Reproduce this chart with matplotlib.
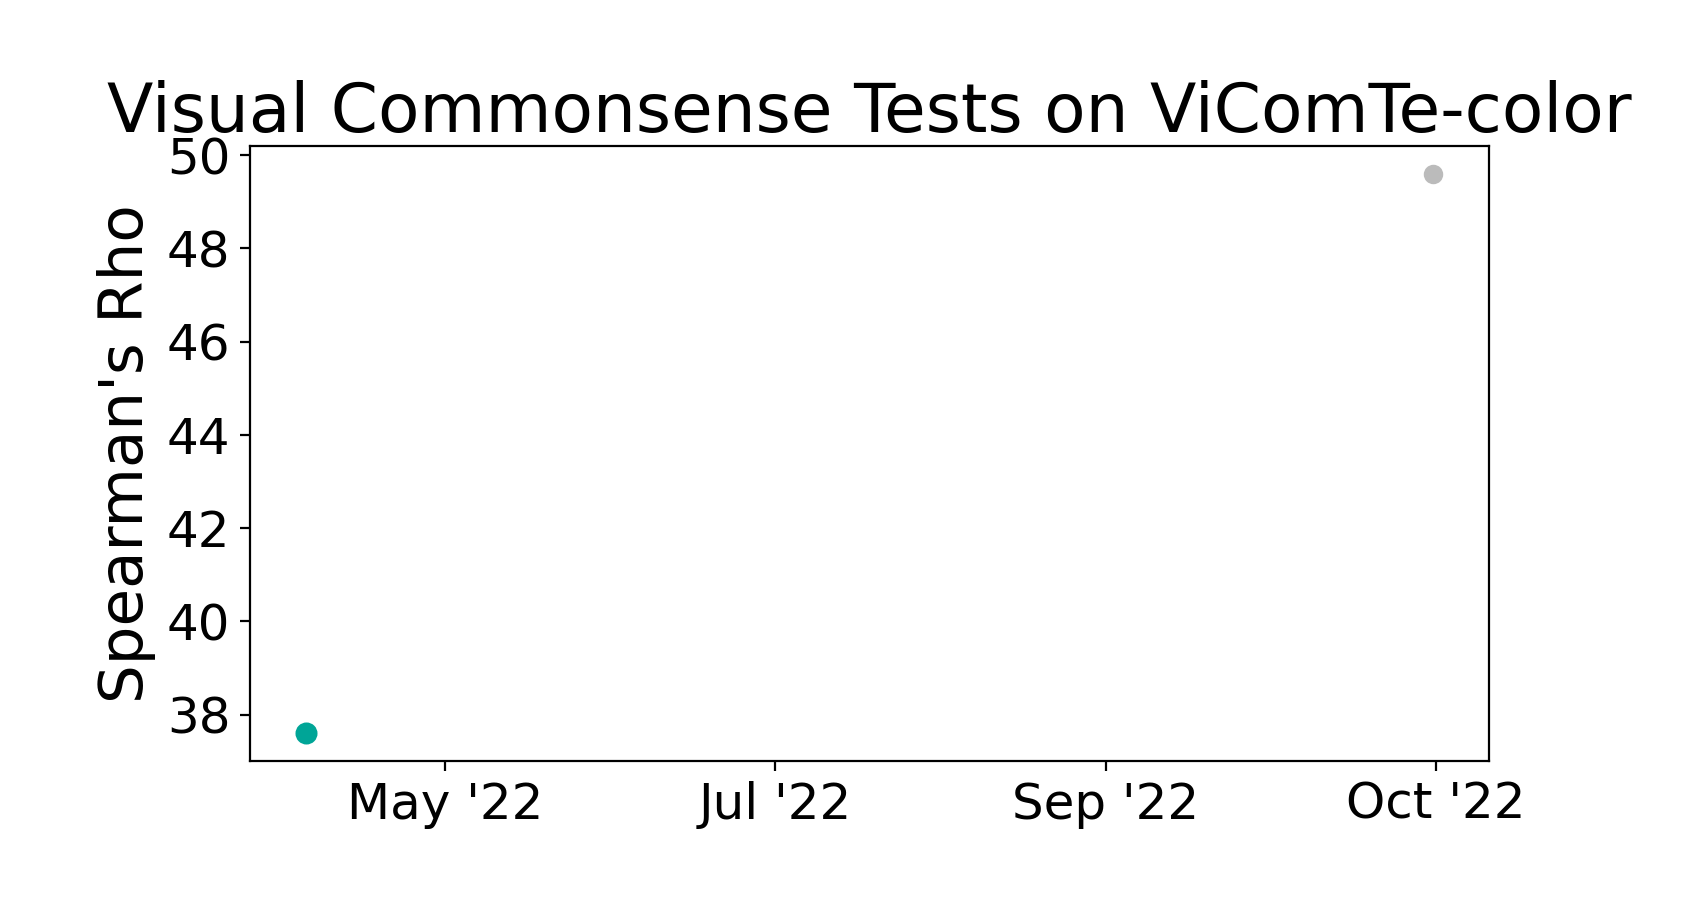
import datetime as dt
import matplotlib
matplotlib.use('Agg')
import matplotlib.pyplot as plt
import matplotlib.dates as mdates

# data
dates = [dt.datetime(2022, 5, 4), dt.datetime(2022, 10, 21, 12)]
rho = [37.6, 49.6]
colors = ['#00a597', '#bbbbbb']
sizes = [48, 36]

tick_dates = [dt.date(2022, 5, 25), dt.date(2022, 7, 14),
              dt.date(2022, 9, 2), dt.date(2022, 10, 22)]
tick_labels = ["May '22", "Jul '22", "Sep '22", "Oct '22"]
y_ticks = [38, 40, 42, 44, 46, 48, 50]

fig = plt.figure(figsize=(8.5, 4.5), dpi=200)
ax = fig.add_axes([0.147, 0.154, 0.729, 0.684])

for d, r, c, s in zip(dates, rho, colors, sizes):
    ax.scatter(mdates.date2num(d), r, color=c, s=s, zorder=3)

ax.set_xticks([mdates.date2num(t) for t in tick_dates])
ax.set_xticklabels(tick_labels)
ax.set_yticks(y_ticks)
ax.tick_params(labelsize=18)
ax.set_ylabel("Spearman's Rho", fontsize=22)
ax.set_title("Visual Commonsense Tests on ViComTe-color", fontsize=24.4, pad=5)

fig.savefig('out.png', dpi=200)
